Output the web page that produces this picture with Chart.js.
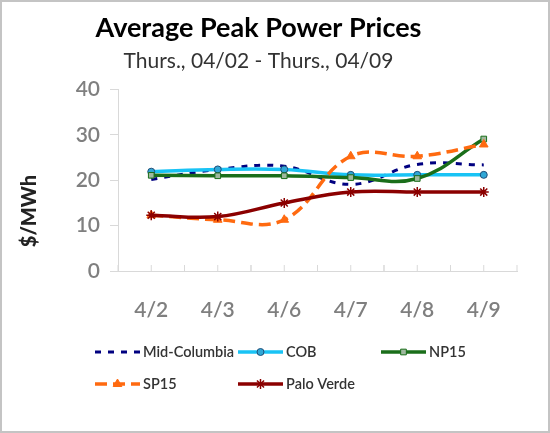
<!DOCTYPE html>
<html>
<head>
<meta charset="utf-8">
<script src="https://cdn.jsdelivr.net/npm/chart.js@4"></script>
<style>
  html, body { margin: 0; padding: 0; background: #fff; }
  #wrap { width: 550px; height: 433px; }
</style>
</head>
<body>
<div id="wrap"><canvas id="chart" width="550" height="433"></canvas></div>
<script>
// values
const days = ["4/2", "4/3", "4/6", "4/7", "4/8", "4/9"];
const midColumbia = [20.2, 22.4, 23.1, 19.1, 23.5, 23.4];
const cob = [21.9, 22.4, 22.4, 21.2, 21.2, 21.2];
const np15 = [21.1, 21.0, 21.0, 20.6, 20.4, 29.1];
const sp15 = [12.3, 11.3, 11.3, 25.3, 25.3, 27.9];
const paloVerde = [12.3, 12.0, 15.0, 17.4, 17.4, 17.4];
const yTicks = [0, 10, 20, 30, 40];

const fontFamily = "Lato, 'Open Sans', sans-serif";
const labelGray = "#7f7f7f";
const axisGray = "#d9d9d9";

// white page with thin gray frame
const frame = {
    id: "frame",
    beforeDraw(chart) {
        const ctx = chart.ctx;
        ctx.save();
        ctx.fillStyle = "#fff";
        ctx.fillRect(0, 0, chart.width, chart.height);
        ctx.strokeStyle = "#c4c4c4";
        ctx.lineWidth = 2;
        ctx.strokeRect(1, 1, chart.width - 2, chart.height - 2);
        ctx.restore();
    }
};

// small upward tick marks on the category axis, at centers and between
const xMarks = {
    id: "xMarks",
    afterDraw(chart) {
        const x = chart.scales.x;
        const ctx = chart.ctx;
        const half = (x.getPixelForValue(1) - x.getPixelForValue(0)) / 2;
        ctx.save();
        ctx.strokeStyle = axisGray;
        ctx.lineWidth = 1;
        ctx.beginPath();
        for (let i = 0; i < days.length; i++) {
            const c = x.getPixelForValue(i);
            [c - half, c, c + half].forEach(px => {
                ctx.moveTo(px, x.top);
                ctx.lineTo(px, x.top - 6);
            });
        }
        ctx.stroke();

        // y axis title, set lower than the axis middle like the original
        ctx.fillStyle = "#222";
        ctx.font = "900 20px " + fontFamily;
        ctx.textAlign = "center";
        ctx.textBaseline = "middle";
        ctx.translate(30, 211);
        ctx.rotate(-Math.PI / 2);
        ctx.fillText("$/MWh", 0, 0);
        ctx.restore();
    }
};

// legend laid out in a 3-column grid
const gridLegend = {
    id: "gridLegend",
    afterDraw(chart) {
        const ctx = chart.ctx;
        chart.data.datasets.forEach((ds, i) => {
            const x0 = 95 + (i % 3) * 143;
            const y = 352 + Math.floor(i / 3) * 32;
            ctx.save();
            ctx.strokeStyle = ds.borderColor;
            ctx.lineWidth = ds.borderWidth;
            ctx.setLineDash(ds.borderDash || []);
            ctx.beginPath();
            ctx.moveTo(x0, y);
            ctx.lineTo(x0 + 45, y);
            ctx.stroke();
            ctx.setLineDash([]);
            if (ds.pointRadius > 0) {
                ctx.fillStyle = ds.pointBackgroundColor;
                ctx.strokeStyle = ds.pointBorderColor;
                ctx.lineWidth = ds.pointBorderWidth;
                Chart.helpers.drawPoint(ctx, {
                    pointStyle: ds.pointStyle,
                    radius: ds.pointRadius,
                    borderWidth: ds.pointBorderWidth,
                    rotation: 0
                }, x0 + 22.5, y);
            }
            ctx.fillStyle = "#333";
            ctx.font = "600 14.5px " + fontFamily;
            ctx.textAlign = "left";
            ctx.textBaseline = "middle";
            ctx.fillText(ds.label, x0 + 48, y);
            ctx.restore();
        });
    }
};

new Chart(document.getElementById("chart"), {
    type: "line",
    data: {
        labels: days,
        datasets: [
            {
                label: "Mid-Columbia",
                data: midColumbia,
                borderColor: "#000080",
                borderWidth: 3,
                borderDash: [6, 7],
                pointRadius: 0,
                pointStyle: "circle",
                order: 5
            },
            {
                label: "COB",
                data: cob,
                borderColor: "#19c3f5",
                borderWidth: 3.5,
                pointStyle: "circle",
                pointRadius: 3.5,
                pointBackgroundColor: "#2fa7d6",
                pointBorderColor: "#1f4e79",
                pointBorderWidth: 1,
                order: 4
            },
            {
                label: "NP15",
                data: np15,
                borderColor: "#1a6e1a",
                borderWidth: 3.5,
                pointStyle: "rect",
                pointRadius: 4,
                pointBackgroundColor: "#9fb89f",
                pointBorderColor: "#1a6e1a",
                pointBorderWidth: 1,
                order: 3
            },
            {
                label: "SP15",
                data: sp15,
                borderColor: "#ff6a10",
                borderWidth: 3.5,
                borderDash: [12, 6],
                pointStyle: "triangle",
                pointRadius: 5,
                pointBackgroundColor: "#ff6a10",
                pointBorderColor: "#ff6a10",
                pointBorderWidth: 1,
                order: 2
            },
            {
                label: "Palo Verde",
                data: paloVerde,
                borderColor: "#8b0000",
                borderWidth: 3.5,
                pointStyle: "star",
                pointRadius: 5,
                pointBackgroundColor: "#8b0000",
                pointBorderColor: "#8b0000",
                pointBorderWidth: 1.5,
                order: 1
            }
        ]
    },
    options: {
        responsive: false,
        animation: false,
        devicePixelRatio: 1,
        tension: 0.4,
        layout: { padding: { left: 0, right: 33, top: 0, bottom: 110 } },
        plugins: {
            legend: { display: false },
            tooltip: { enabled: false },
            title: {
                display: true,
                text: "Average Peak Power Prices",
                color: "#000",
                font: { family: fontFamily, size: 27, weight: "bold", lineHeight: 1.2 },
                padding: { top: 12, bottom: 0 }
            },
            subtitle: {
                display: true,
                text: "Thurs., 04/02 - Thurs., 04/09",
                color: "#333",
                font: { family: fontFamily, size: 21, weight: "normal", lineHeight: 1.2 },
                padding: { top: 4, bottom: 16 }
            }
        },
        scales: {
            x: {
                offset: true,
                grid: { display: false, drawTicks: false },
                border: { display: true, color: axisGray, width: 1 },
                ticks: {
                    color: labelGray,
                    padding: 27,
                    font: { family: fontFamily, size: 21, weight: "600" }
                },
                afterFit(scale) { scale.height = 52; }
            },
            y: {
                min: 0,
                max: 40,
                afterBuildTicks(scale) { scale.ticks = yTicks.map(v => ({ value: v })); },
                grid: {
                    drawOnChartArea: false,
                    drawTicks: true,
                    tickLength: 8,
                    color: axisGray
                },
                border: { display: true, color: axisGray, width: 1 },
                ticks: {
                    color: labelGray,
                    padding: 10,
                    font: { family: fontFamily, size: 21, weight: "600" }
                },
                afterFit(scale) { scale.width = 118; }
            }
        }
    },
    plugins: [frame, xMarks, gridLegend]
});
</script>
</body>
</html>
